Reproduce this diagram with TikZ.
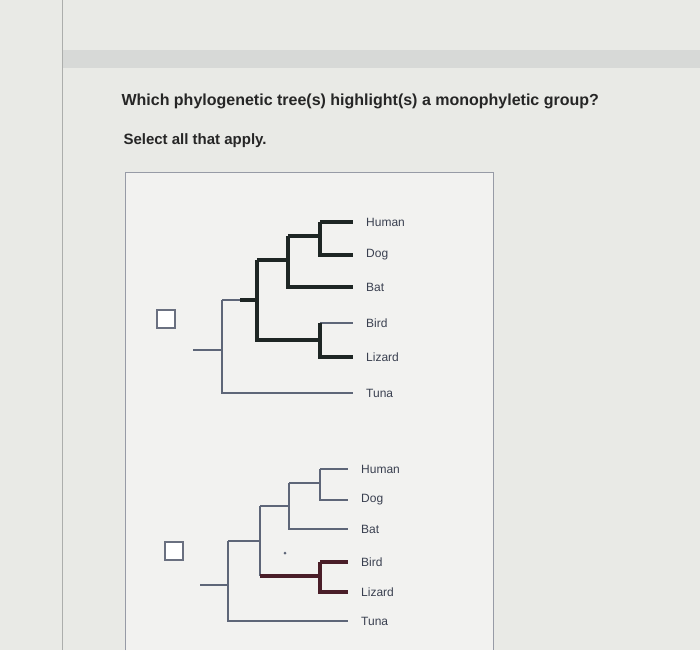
\documentclass[tikz,border=0pt]{standalone}
\usepackage{fontspec}
\setmainfont{Liberation Sans}
\begin{document}
\begin{tikzpicture}[x=1pt,y=-1pt,
  thin br/.style={draw=brgray,line width=1.4pt},
  thick br/.style={draw=brdark,line width=4pt},
  red br/.style={draw=brred,line width=3.4pt},
  tip/.style={anchor=west,font=\fontsize{12}{13}\selectfont,text=tipc,inner sep=1pt,xshift=12pt},
  cbox/.style={draw=boxc,line width=1.4pt,minimum size=18pt,inner sep=0pt,fill=white}]
\definecolor{bg}{HTML}{E9EAE6}
\definecolor{band}{HTML}{D7D9D7}
\definecolor{brgray}{HTML}{5E6678}
\definecolor{brdark}{HTML}{1E2624}
\definecolor{brred}{HTML}{4A1E28}
\definecolor{tipc}{HTML}{3A4050}
\definecolor{boxc}{HTML}{6A7080}
\fill[bg] (0,0) rectangle (700,650);
\useasboundingbox (0,0) rectangle (700,650);
\fill[band] (62,50) rectangle (700,68);
\draw[draw=band!80!black,line width=0.6pt] (62,0) -- (62,650);
\node[anchor=west,font=\bfseries\fontsize{16}{18}\selectfont,text=black!85] (q) at (118,101) {Which phylogenetic tree(s) highlight(s) a monophyletic group?};
\node[anchor=west,font=\bfseries\fontsize{15}{18}\selectfont,text=black!85] (s) at (120,141) {Select all that apply.};
\draw[draw=boxc!70,line width=1pt,fill=bg!60!white] (125,650) -- (125,172) -- (493,172) -- (493,650);
% tree 1
\node[cbox] (c1) at (166,319) {};
\coordinate (a1) at (193,350);
\coordinate (r1) at (222,350);
\coordinate (n1) at (257,300);
\path (353,222) coordinate (t1) node[tip] (hu1) {Human};
\path (353,255) coordinate (t2) node[tip] (do1) {Dog};
\path (353,287) coordinate (t3) node[tip] (ba1) {Bat};
\path (353,323) coordinate (t4) node[tip] (bi1) {Bird};
\path (353,357) coordinate (t5) node[tip] (li1) {Lizard};
\path (353,393) coordinate (t6) node[tip] (tu1) {Tuna};
\draw[thin br] (a1) -- (r1) (222,300) -- (222,393) -- (t6) (222,300) -- (n1);
\draw[thin br] (320,323) -- (t4);
\draw[thick br] (240,300) -- (257,300) (257,260) -- (257,340) -- (320,340)
  (257,260) -- (288,260) (288,236) -- (288,287) -- (t3) (288,236) -- (320,236)
  (320,222) -- (t1) (320,222) -- (320,255) -- (t2)
  (320,323) -- (320,357) -- (t5);
% tree 2
\node[cbox] (c2) at (174,551) {};
\coordinate (a2) at (200,585);
\path (348,469) coordinate (u1) node[tip] (hu2) {Human};
\path (348,500) coordinate (u2) node[tip] (do2) {Dog};
\path (348,529) coordinate (u3) node[tip] (ba2) {Bat};
\path (348,562) coordinate (u4) node[tip] (bi2) {Bird};
\path (348,592) coordinate (u5) node[tip] (li2) {Lizard};
\path (348,621) coordinate (u6) node[tip] (tu2) {Tuna};
\draw[thin br] (a2) -- (228,585) (228,541) -- (228,621) -- (u6) (228,541) -- (260,541)
  (260,506) -- (260,576) (260,506) -- (289,506) (289,483) -- (289,529) -- (u3)
  (289,483) -- (320,483) (320,469) -- (u1) (320,469) -- (320,500) -- (u2);
\draw[red br] (260,576) -- (320,576) (320,562) -- (u4) (320,562) -- (320,592) -- (u5);
\fill[brgray] (285,553) circle (1.5pt);
\end{tikzpicture}
\end{document}
